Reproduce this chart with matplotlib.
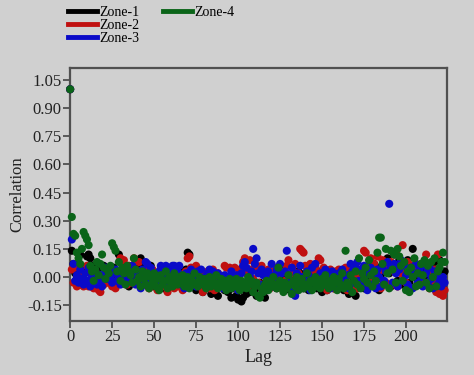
import numpy as np
import matplotlib.pyplot as plt
from matplotlib.lines import Line2D
plt.rcParams["font.family"] = "Liberation Serif"

# autocorrelation values, lag 0..223
zone1 = [1.00, 0.14, 0.07, 0.02, -0.01, 0.03, 0.12, 0.05, -0.02, 0.04, 0.11, 0.12, 0.10, 0.06, 0.01, -0.03,
         0.02, 0.05, -0.04, 0.03, 0.06, -0.02, 0.01, 0.04, -0.03, 0.02, 0.05, 0.00, -0.02, 0.12, 0.09, 0.03,
         -0.01, 0.04, 0.02, -0.05, 0.01, 0.06, 0.03, -0.02, 0.00, 0.05, 0.10, 0.07, 0.02, -0.04, 0.01, 0.03,
         0.06, -0.01, -0.05, 0.02, 0.00, -0.03, 0.04, 0.01, -0.06, -0.02, 0.03, 0.00, -0.04, 0.02, -0.01, -0.05,
         0.01, 0.03, -0.02, -0.06, 0.00, 0.04, 0.13, 0.12, 0.02, -0.03, 0.01, -0.07, -0.04, 0.02, -0.01, -0.08,
         -0.03, 0.00, -0.05, -0.02, -0.09, -0.04, 0.01, -0.06, -0.10, -0.03, -0.05, 0.00, -0.07, -0.04, -0.08, -0.02,
         -0.11, -0.06, -0.03, -0.10, -0.12, -0.07, -0.13, -0.11, -0.05, -0.09, -0.04, -0.08, -0.06, -0.02, -0.07, -0.10,
         -0.05, -0.03, -0.10, -0.08, -0.11, -0.04, -0.06, -0.02, -0.05, 0.01, -0.03, -0.06, 0.02, -0.04, 0.04, -0.02,
         -0.05, 0.00, -0.03, -0.07, 0.01, -0.04, -0.08, -0.02, 0.03, -0.05, -0.01, -0.06, 0.02, -0.03, -0.07, 0.00,
         -0.04, 0.01, -0.02, -0.06, 0.03, -0.03, -0.08, -0.05, 0.00, -0.07, -0.02, 0.02, -0.04, -0.06, 0.01, -0.03,
         -0.05, 0.02, -0.01, -0.07, 0.00, -0.03, -0.09, -0.04, 0.03, -0.02, -0.10, -0.05, 0.01, -0.03, 0.04, -0.06,
         0.02, -0.01, 0.06, -0.04, 0.03, 0.07, -0.02, 0.05, -0.07, 0.01, 0.04, -0.03, 0.08, 0.10, 0.02, -0.05,
         0.06, 0.12, 0.03, -0.02, 0.09, 0.05, -0.04, 0.08, 0.02, 0.09, -0.03, 0.04, 0.15, 0.06, 0.01, -0.02,
         0.05, 0.00, -0.04, 0.03, 0.07, -0.01, 0.02, -0.05, 0.04, 0.08, 0.01, -0.03, 0.09, 0.02, -0.04, 0.03]

zone2 = [1.00, 0.04, -0.03, 0.05, -0.05, -0.02, -0.04, 0.01, -0.05, -0.03, 0.06, -0.05, 0.02, -0.04, -0.06, 0.03,
         -0.02, -0.07, -0.08, 0.01, -0.04, 0.04, -0.03, 0.00, 0.05, -0.05, 0.02, -0.06, -0.02, 0.03, 0.10, 0.07,
         0.09, 0.02, -0.04, 0.06, 0.01, -0.03, 0.10, 0.04, -0.02, 0.08, -0.05, 0.03, 0.00, -0.04, 0.05, -0.06,
         0.01, 0.04, -0.03, 0.02, -0.07, 0.00, 0.03, -0.05, 0.01, -0.02, -0.08, 0.02, -0.04, 0.00, -0.06, 0.03,
         -0.02, -0.05, 0.01, -0.07, 0.02, 0.03, 0.10, 0.11, 0.05, -0.03, 0.00, 0.06, 0.02, -0.05, -0.02, -0.08,
         0.01, -0.04, 0.03, -0.06, -0.01, 0.04, -0.07, -0.02, 0.02, -0.05, 0.00, -0.03, 0.06, 0.05, -0.04, 0.05,
         0.04, -0.02, 0.05, -0.06, 0.01, 0.04, -0.04, 0.08, 0.10, 0.02, -0.05, 0.09, 0.04, -0.01, 0.05, 0.06,
         -0.03, 0.02, 0.06, -0.05, 0.01, -0.02, 0.04, -0.06, 0.00, 0.03, -0.04, 0.05, -0.01, 0.02, -0.06, 0.03,
         -0.02, 0.06, 0.09, 0.01, -0.04, 0.03, 0.07, -0.03, 0.02, 0.15, 0.14, 0.13, 0.06, -0.02, 0.04, 0.07,
         -0.05, 0.01, 0.06, 0.03, 0.10, 0.09, -0.03, 0.05, 0.02, -0.07, 0.01, 0.04, -0.02, -0.06, 0.03, 0.00,
         0.04, -0.05, 0.02, -0.03, 0.05, -0.07, 0.01, 0.03, -0.04, 0.06, 0.00, -0.06, 0.04, 0.02, -0.03, 0.14,
         0.13, 0.05, -0.04, 0.10, -0.02, 0.07, -0.05, 0.11, 0.03, -0.06, 0.09, 0.04, -0.03, 0.06, -0.05, 0.08,
         -0.04, 0.03, 0.13, -0.05, 0.06, 0.02, 0.17, 0.05, -0.03, 0.08, 0.03, -0.06, 0.06, 0.04, 0.02, 0.05,
         -0.04, 0.07, 0.01, -0.03, 0.12, 0.05, -0.06, 0.02, -0.02, 0.04, -0.08, 0.12, -0.09, -0.07, -0.10, -0.07]

zone3 = [1.00, 0.20, 0.07, -0.02, 0.01, -0.03, 0.04, -0.01, -0.04, 0.02, -0.02, 0.05, -0.05, 0.00, -0.03, 0.03,
         -0.04, 0.01, -0.02, -0.05, 0.02, 0.05, -0.01, 0.04, 0.00, -0.03, 0.02, 0.04, -0.02, 0.01, -0.04, 0.03,
         0.00, -0.03, 0.02, 0.05, -0.02, 0.06, 0.03, -0.04, 0.01, -0.02, -0.06, 0.04, 0.02, 0.08, 0.07, -0.03,
         0.05, 0.02, -0.04, 0.01, -0.02, 0.03, 0.06, -0.01, 0.00, 0.06, -0.03, 0.02, 0.04, 0.06, 0.06, -0.02,
         0.03, 0.06, -0.04, 0.01, -0.06, 0.02, 0.00, -0.03, 0.04, -0.02, 0.01, -0.05, 0.03, -0.01, 0.04, -0.03,
         0.00, -0.05, 0.02, 0.04, -0.02, 0.03, 0.01, -0.04, 0.02, 0.00, -0.03, -0.06, 0.01, -0.02, -0.04, 0.00,
         0.03, -0.05, -0.02, 0.01, -0.07, -0.03, 0.02, 0.06, 0.08, 0.05, -0.04, 0.00, 0.03, 0.15, 0.07, 0.10,
         0.02, -0.04, 0.04, 0.01, -0.06, 0.00, 0.03, -0.02, 0.07, -0.05, 0.01, 0.04, -0.03, 0.07, 0.02, -0.04,
         0.03, 0.14, 0.01, -0.03, 0.05, -0.06, -0.10, 0.02, -0.04, 0.06, 0.00, -0.02, -0.05, 0.03, 0.01, -0.07,
         0.05, -0.03, 0.07, -0.01, -0.05, 0.02, 0.00, -0.04, 0.04, -0.02, 0.01, -0.06, 0.03, -0.03, 0.00, -0.05,
         0.02, -0.02, 0.04, 0.00, -0.04, 0.01, -0.06, 0.07, 0.03, -0.03, 0.05, 0.08, -0.02, 0.04, -0.05, 0.06,
         0.01, -0.07, 0.03, 0.05, -0.04, 0.02, -0.06, 0.04, 0.00, -0.05, 0.06, -0.02, 0.03, 0.08, 0.39, 0.05,
         -0.03, 0.07, 0.02, -0.05, 0.04, 0.09, -0.02, 0.06, 0.01, -0.04, 0.03, 0.05, -0.06, 0.02, 0.07, -0.03,
         0.04, 0.00, -0.05, 0.06, 0.02, -0.03, 0.05, -0.01, -0.06, 0.03, 0.01, -0.04, -0.02, -0.05, 0.00, -0.03]

zone4 = [1.00, 0.32, 0.23, 0.22, 0.13, 0.10, 0.07, 0.15, 0.24, 0.22, 0.20, 0.17, 0.06, 0.03, -0.02, 0.04,
         0.08, 0.01, 0.07, 0.12, 0.05, -0.01, 0.04, 0.02, 0.06, 0.18, 0.16, 0.14, 0.03, 0.08, -0.02, 0.05,
         0.02, -0.04, 0.06, 0.03, 0.01, -0.03, 0.10, 0.04, -0.02, 0.00, -0.05, 0.03, -0.01, -0.04, 0.02, -0.06,
         0.00, -0.03, 0.02, -0.05, -0.01, -0.07, 0.01, -0.04, -0.02, 0.03, -0.06, 0.00, -0.03, -0.05, 0.02, -0.01,
         -0.04, 0.00, -0.02, 0.01, -0.05, -0.03, 0.00, -0.06, -0.01, -0.04, 0.02, -0.03, -0.05, 0.00, -0.02, -0.04,
         -0.01, -0.06, -0.03, 0.00, -0.05, -0.02, -0.04, 0.01, -0.06, -0.03, -0.01, -0.05, -0.02, -0.07, -0.04, -0.01,
         -0.06, -0.03, -0.05, -0.01, -0.04, -0.07, -0.02, -0.05, -0.03, -0.06, 0.00, -0.04, -0.02, -0.08, -0.05, -0.03,
         -0.10, -0.11, -0.06, -0.08, -0.04, -0.02, -0.07, -0.03, -0.05, 0.00, -0.04, -0.06, 0.05, -0.02, -0.05, -0.08,
         -0.03, -0.06, 0.01, -0.04, -0.09, -0.02, -0.05, 0.00, -0.07, -0.03, -0.01, -0.06, -0.04, 0.02, -0.05, -0.02,
         -0.07, -0.03, 0.00, -0.05, -0.02, -0.06, -0.01, -0.04, 0.01, -0.03, -0.06, -0.02, -0.05, 0.00, -0.03, -0.07,
         -0.01, -0.04, 0.02, -0.06, 0.14, -0.03, -0.05, 0.01, -0.08, -0.02, 0.03, -0.04, 0.10, -0.06, 0.02, -0.01,
         0.05, -0.03, 0.09, 0.01, -0.05, 0.03, -0.02, 0.13, 0.21, 0.21, 0.07, -0.04, 0.15, 0.02, -0.06, 0.14,
         0.04, 0.12, -0.03, 0.15, 0.11, 0.06, -0.02, 0.08, -0.07, 0.03, -0.08, 0.05, 0.00, 0.10, -0.05, 0.02,
         -0.04, 0.07, 0.01, 0.09, -0.03, 0.06, -0.06, 0.08, 0.00, 0.10, -0.05, 0.03, 0.05, 0.08, 0.13, 0.08]

zones = ['Zone-1', 'Zone-2', 'Zone-3', 'Zone-4']
colours = ['#000000', '#c01010', '#0a0ac8', '#0a6418']
xticks = [0, 25, 50, 75, 100, 125, 150, 175, 200]
yticks = [-0.15, 0.00, 0.15, 0.30, 0.45, 0.60, 0.75, 0.90, 1.05]

bg = '#d0d0d0'
fig = plt.figure(figsize=(4.74, 3.75), dpi=100, facecolor=bg)
ax = fig.add_axes([0.148, 0.144, 0.795, 0.674], facecolor=bg)

lags = np.arange(len(zone1))
for vals, col in zip([zone1, zone2, zone3, zone4], colours):
    ax.scatter(lags, vals, s=34, color=col, edgecolors='none', clip_on=False, zorder=3)

ax.set_xlim(0, 224.4)
ax.set_ylim(-0.234, 1.112)
ax.set_xticks(xticks)
ax.set_yticks(yticks)
ax.set_yticklabels(['%.2f' % v for v in yticks])
ax.tick_params(direction='out', length=5, width=1.3, color='#505050',
               labelsize=12, labelcolor='#222222', pad=1)
for sp in ax.spines.values():
    sp.set_color('#505050')
    sp.set_linewidth(1.6)

ax.set_xlabel('Lag', fontsize=13, color='#222222', labelpad=3)
ax.set_ylabel('Correlation', fontsize=12, color='#222222', labelpad=1)

# legend: three zones in the first column, zone-4 alone in the second
handles = [Line2D([], [], color=c, lw=3.5) for c in colours]
leg_kw = dict(loc='upper left', frameon=False, fontsize=10, labelspacing=0.0,
              handlelength=2.1, handletextpad=0.15, borderpad=0, borderaxespad=0)
fig.legend(handles[:3], zones[:3], bbox_to_anchor=(0.143, 0.985), **leg_kw)
fig.legend(handles[3:], zones[3:], bbox_to_anchor=(0.344, 0.985), **leg_kw)

fig.savefig('out.png', dpi=100, facecolor=bg)
